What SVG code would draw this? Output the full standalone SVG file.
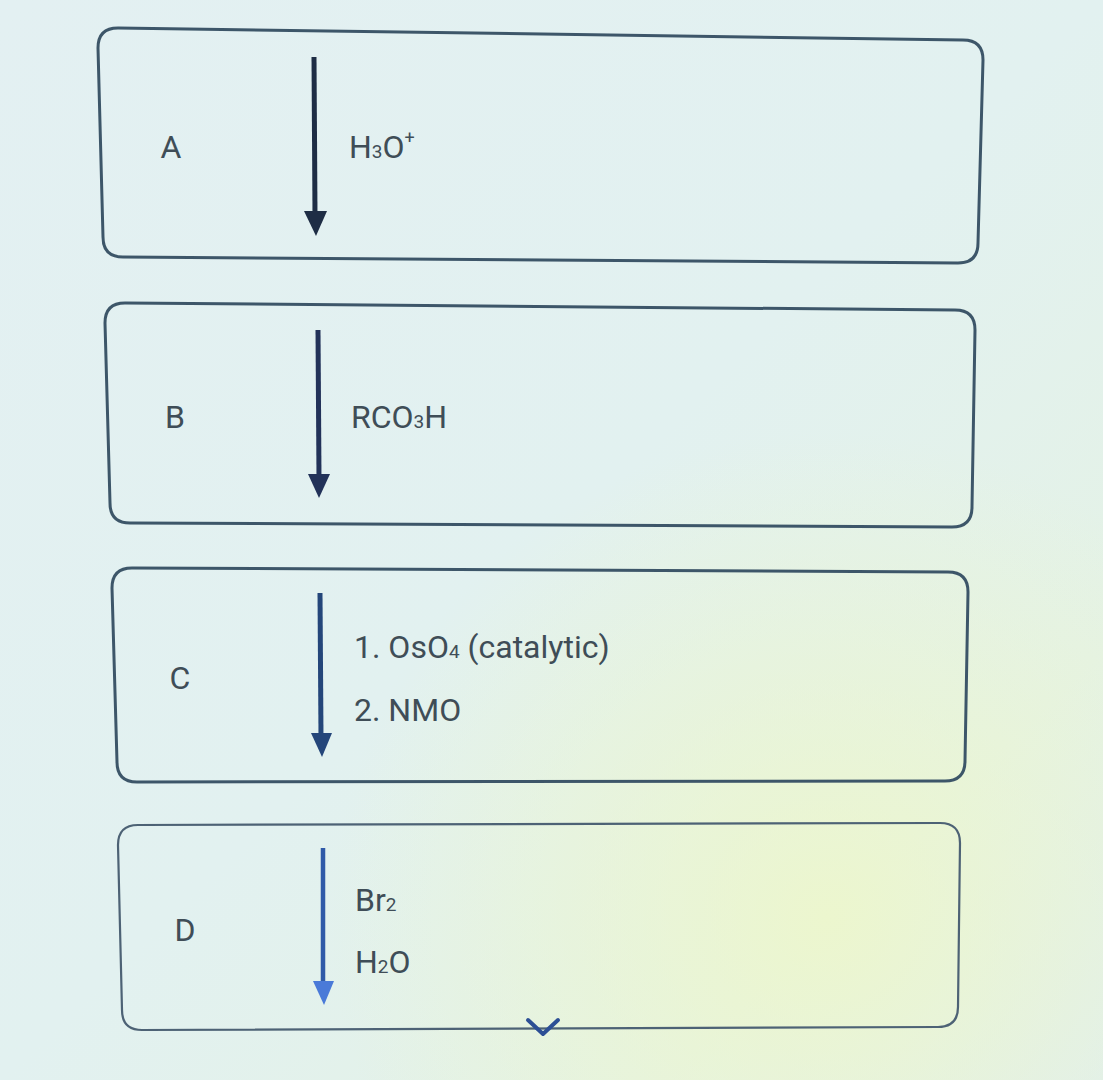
<svg xmlns="http://www.w3.org/2000/svg" width="1103" height="1080" viewBox="0 0 1103 1080">
<defs>
<linearGradient id="bg" x1="0" y1="0" x2="1" y2="1">
<stop offset="0" stop-color="#e3f0f2"/>
<stop offset="0.5" stop-color="#e2f1f0"/>
<stop offset="0.8" stop-color="#e4f2e6"/>
<stop offset="1" stop-color="#dfeef2"/>
</linearGradient>
<radialGradient id="glow" cx="0.75" cy="0.85" r="0.45">
<stop offset="0" stop-color="#eef7c8" stop-opacity="0.8"/>
<stop offset="1" stop-color="#eef7c8" stop-opacity="0"/>
</radialGradient>
<style>
.box{fill:none;stroke:#3d5669;stroke-width:3}
.lbl{font-family:Roboto,"Liberation Sans",sans-serif;font-size:32px;fill:#3f4d57}
.sub{font-size:19px}
.sup{font-size:18px}
</style>
</defs>
<rect width="1103" height="1080" fill="url(#bg)"/>
<rect width="1103" height="1080" fill="url(#glow)"/>
<g id="nodeA">
<path class="box" d="M98,48 Q98,28 118,28 L963,40 Q983,40 983,60 L978,243 Q978,263 958,263 L123,257 Q103,257 103,237 Z"/>
<text class="lbl" x="171" y="158" text-anchor="middle">A</text>
<text class="lbl" x="349" y="158">H<tspan class="sub">3</tspan>O<tspan class="sup" dy="-14">+</tspan></text>
</g>
<g id="nodeB">
<path class="box" d="M105,323 Q105,303 125,303 L955,310 Q975,310 975,330 L972,507 Q972,527 952,527 L130,523 Q110,523 110,503 Z"/>
<text class="lbl" x="175" y="428" text-anchor="middle">B</text>
<text class="lbl" x="351" y="428">RCO<tspan class="sub">3</tspan>H</text>
</g>
<g id="nodeC">
<path class="box" d="M112,588 Q112,568 132,568 L948,572 Q968,572 968,592 L965,761 Q965,781 945,781 L137,782 Q117,782 117,762 Z"/>
<text class="lbl" x="180" y="689" text-anchor="middle">C</text>
<text class="lbl" x="354" y="658">1. OsO<tspan class="sub">4</tspan> (catalytic)</text>
<text class="lbl" x="354" y="721">2. NMO</text>
</g>
<g id="nodeD">
<path class="box" style="stroke-width:2.2;stroke:#4d6275" d="M118,845 Q118,825 138,825 L940,823 Q960,823 960,843 L958,1007 Q958,1027 938,1027 L142,1030 Q122,1030 122,1010 Z"/>
<text class="lbl" x="185" y="941" text-anchor="middle">D</text>
<text class="lbl" x="355" y="911">Br<tspan class="sub">2</tspan></text>
<text class="lbl" x="355" y="973">H<tspan class="sub">2</tspan>O</text>
</g>
<g id="connectors">
<line x1="314" y1="57" x2="315" y2="215" stroke="#1e2d45" stroke-width="5"/>
<polygon points="304,211 327,211 316,236" fill="#1e2d45"/>
<line x1="318" y1="330" x2="319" y2="478" stroke="#223259" stroke-width="5"/>
<polygon points="308,474 330,474 319,498" fill="#223259"/>
<line x1="320" y1="593" x2="321" y2="737" stroke="#24467a" stroke-width="5"/>
<polygon points="311,733 332,733 322,757" fill="#24467a"/>
<line x1="323" y1="848" x2="323" y2="985" stroke="#2f5aa8" stroke-width="4.5"/>
<polygon points="313,981 334,981 324,1005" fill="#4a7ad8"/>
</g>
<path d="M528,1020 L543,1034 L558,1020" fill="none" stroke="#2c4f95" stroke-width="4" stroke-linecap="round" stroke-linejoin="round"/>
</svg>
